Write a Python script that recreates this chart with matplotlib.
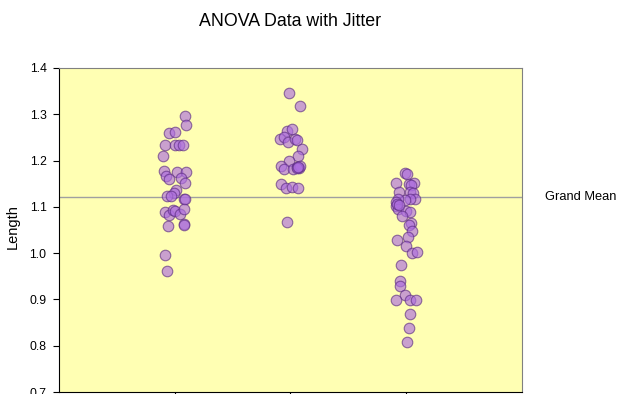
import numpy as np
import matplotlib
matplotlib.use('Agg')
import matplotlib.pyplot as plt

plt.rcParams['font.family'] = ['Liberation Sans', 'DejaVu Sans']

# group 1: jittered x and length
x1 = [1.088, 1.099, 0.952, 1.002, 0.918, 1.002, 1.039, 1.073, 0.901, 0.909,
      1.019, 1.097, 0.921, 0.950, 1.054, 1.088, 1.010, 0.996, 0.935, 0.967,
      1.082, 1.088, 0.915, 0.950, 0.984, 1.002, 1.045, 1.079, 0.944, 1.079,
      1.082, 0.915, 0.929]
y1 = [1.297, 1.277, 1.259, 1.261, 1.234, 1.234, 1.234, 1.234, 1.210, 1.177,
      1.175, 1.175, 1.167, 1.160, 1.163, 1.152, 1.137, 1.129, 1.123, 1.123,
      1.117, 1.116, 1.089, 1.082, 1.093, 1.090, 1.085, 1.095, 1.059, 1.064,
      1.061, 0.997, 0.962]

# group 2
x2 = [1.989, 2.080, 1.971, 2.015, 1.911, 1.940, 1.983, 2.041, 2.058, 2.101,
      2.063, 1.991, 1.920, 1.948, 2.020, 2.054, 2.072, 2.080, 2.058, 2.067,
      1.922, 1.959, 2.011, 2.069, 1.971]
y2 = [1.346, 1.318, 1.264, 1.269, 1.247, 1.251, 1.239, 1.247, 1.244, 1.226,
      1.209, 1.199, 1.189, 1.181, 1.181, 1.186, 1.184, 1.188, 1.183, 1.187,
      1.150, 1.140, 1.143, 1.140, 1.068]

# group 3
x3 = [2.991, 3.006, 2.911, 3.023, 3.067, 3.043, 2.940, 3.037, 3.058, 3.072,
      3.032, 2.991, 2.933, 2.914, 2.911, 2.933, 2.997, 3.032, 2.968, 3.043,
      3.026, 3.049, 3.015, 2.922, 3.000, 3.054, 3.092, 2.959, 2.946, 2.946,
      2.991, 2.916, 3.029, 3.089, 3.032, 3.023, 3.011, 2.922, 2.940]
y3 = [1.174, 1.171, 1.152, 1.149, 1.152, 1.147, 1.132, 1.133, 1.130, 1.117,
      1.116, 1.114, 1.116, 1.111, 1.101, 1.095, 1.091, 1.088, 1.080, 1.065,
      1.060, 1.047, 1.034, 1.028, 1.016, 1.001, 1.002, 0.974, 0.939, 0.930,
      0.909, 0.899, 0.899, 0.899, 0.868, 0.838, 0.808, 1.107, 1.104]

grand_mean = np.mean(y1 + y2 + y3)

fig = plt.figure(figsize=(6.18, 3.94), dpi=100)
ax = fig.add_axes([0.0955, 0.005, 0.749, 0.8225])
ax.set_facecolor('#ffffb3')

for xs, ys in [(x1, y1), (x2, y2), (x3, y3)]:
    ax.scatter(xs, ys, s=58, facecolor='#ad6ede', edgecolor='#5a2a80',
               linewidth=0.8, alpha=0.65, zorder=3)

ax.axhline(grand_mean, color='#a0a0a0', linewidth=1.0, zorder=2)
ax.text(1.05, grand_mean, 'Grand Mean', transform=ax.get_yaxis_transform(),
        va='center', ha='left', fontsize=9.3, clip_on=False)

ax.set_xlim(0, 4)
ax.set_ylim(0.7, 1.4)
ax.set_xticks([1, 2, 3])
ax.set_xticklabels(['', '', ''])
ax.set_yticks(np.arange(0.7, 1.41, 0.1))
ax.set_yticklabels(['%.1f' % v for v in np.arange(0.7, 1.41, 0.1)])
ax.tick_params(direction='out', length=4, width=0.8, labelsize=8.8, pad=5)
for s in ['top', 'right']:
    ax.spines[s].set_color('#808080')
    ax.spines[s].set_linewidth(0.8)

ax.set_ylabel('Length', fontsize=10.5)
ax.yaxis.set_label_coords(-0.085, 0.51)
fig.text(0.47, 0.945, 'ANOVA Data with Jitter', ha='center', va='center',
         fontsize=12.8)

fig.savefig('out.png', dpi=100)
